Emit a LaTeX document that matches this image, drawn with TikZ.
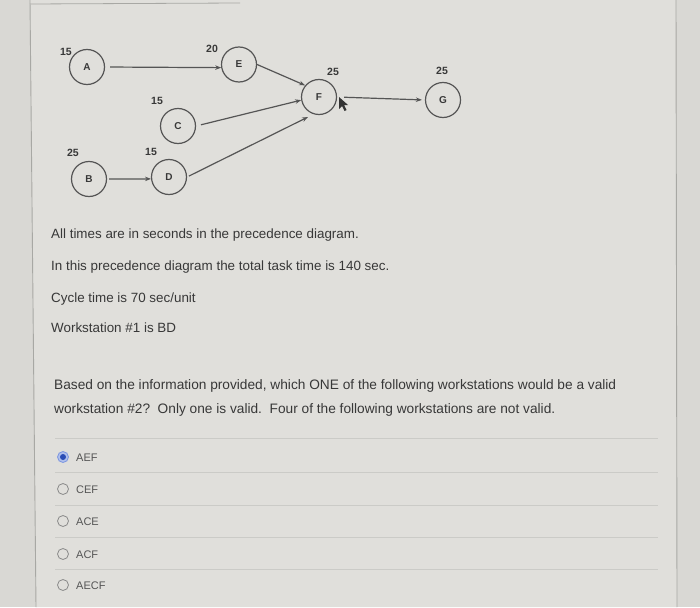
\documentclass[tikz,border=0pt]{standalone}
\usepackage{fontspec}
\setmainfont{Liberation Sans}
\usetikzlibrary{arrows.meta}
\definecolor{outerbg}{HTML}{D9D8D4}
\definecolor{panelbg}{HTML}{E0DFDB}
\definecolor{linec}{HTML}{555555}
\definecolor{txt}{HTML}{383838}
\definecolor{opttxt}{HTML}{555555}
\definecolor{sepc}{HTML}{CBCBC7}
\definecolor{framec}{HTML}{A8A8A4}
\definecolor{radioc}{HTML}{8A8A8A}
\definecolor{selring}{HTML}{7C96E0}
\definecolor{seldot}{HTML}{2B4DB5}
\begin{document}
\begin{tikzpicture}[x=1pt,y=-1pt,
  task/.style={circle,draw=linec,line width=1.2pt,minimum size=35pt,inner sep=0pt,
    font=\fontsize{10}{10}\selectfont\bfseries,text=txt},
  num/.style={font=\fontsize{10.5}{10.5}\selectfont\bfseries,text=txt,inner sep=0pt},
  arr/.style={draw=linec,line width=1.2pt,-{Stealth[length=6pt,width=4.5pt]}},
  para/.style={anchor=base west,inner sep=0pt,font=\fontsize{13.4}{13.4}\selectfont,text=txt},
  ques/.style={anchor=base west,inner sep=0pt,font=\fontsize{13.7}{13.7}\selectfont,text=txt},
  opt/.style={anchor=base west,inner sep=0pt,font=\fontsize{11}{11}\selectfont,text=opttxt},
  radio/.style={circle,draw=radioc,line width=0.8pt,minimum size=11pt,inner sep=0pt},
  sep/.style={draw=sepc,line width=0.9pt}]
\useasboundingbox (0,0) rectangle (700,607);
\fill[outerbg] (0,0) rectangle (700,607);
\fill[panelbg] (30,0) -- (676,0) -- (677,607) -- (36,607) -- cycle;
\draw[framec,line width=0.9pt] (30,0) -- (36,607);
\draw[framec,line width=0.9pt] (676,0) -- (677,607);
\draw[framec,line width=0.8pt] (30,4) -- (240,3);

% task nodes
\node[task] (A) at (87,67) {A};
\node[task] (E) at (239,64.5) {E};
\node[task] (C) at (178,126) {C};
\node[task] (B) at (89,179) {B};
\node[task] (D) at (169,177) {D};
\node[task] (F) at (319,97) {F};
\node[task] (G) at (443,100) {G};

% time labels
\node[num] (tA) at (66,52) {15};
\node[num] (tE) at (212,49) {20};
\node[num] (tC) at (157,101) {15};
\node[num] (tB) at (73,153) {25};
\node[num] (tD) at (151,152) {15};
\node[num] (tF) at (333,72) {25};
\node[num] (tG) at (442,71) {25};

% precedence arrows
\coordinate (fD) at (308,117);
\draw[arr,shorten <=5pt] (A.east) -- (E.190);
\draw[arr,shorten <=2pt] (B.east) -- (D.186);
\draw[arr] (E.east) -- (F.140);
\draw[arr,shorten <=5pt] (C.east) -- (F.190);
\draw[arr,shorten <=2pt] (D.east) -- (fD);
\draw[arr,shorten <=7pt,shorten >=3pt] (F.east) -- (G.west);

% mouse pointer
\fill[black!80] (339,97) -- (339,109) -- (342,106) -- (344.5,111) -- (346.5,110) -- (344,105) -- (348,105) -- cycle;

% text
\node[para] (l1) at (51,238) {All times are in seconds in the precedence diagram.};
\node[para] (l2) at (51,270) {In this precedence diagram the total task time is 140 sec.};
\node[para] (l3) at (51,302) {Cycle time is 70 sec/unit};
\node[para] (l4) at (51,332) {Workstation \#1 is BD};
\node[ques] (q1) at (54,389) {Based on the information provided, which ONE of the following workstations would be a valid};
\node[ques] (q2) at (54,413) {workstation \#2?\ \ Only one is valid.\ \ Four of the following workstations are not valid.};

% separators
\foreach \yy in {438,472.5,505,537,569}
  \draw[sep] (55,\yy) -- (658,\yy);

% options
\node[radio,draw=selring,fill=selring!60] (r1) at (63,457) {};
\fill[seldot] (r1.center) circle (3pt);
\node[radio] (r2) at (63,489) {};
\node[radio] (r3) at (63,521) {};
\node[radio] (r4) at (63,554) {};
\node[radio] (r5) at (63,585) {};
\node[opt] (o1) at (76,461) {AEF};
\node[opt] (o2) at (76,493) {CEF};
\node[opt] (o3) at (76,525) {ACE};
\node[opt] (o4) at (76,558) {ACF};
\node[opt] (o5) at (76,589) {AECF};
\end{tikzpicture}
\end{document}
